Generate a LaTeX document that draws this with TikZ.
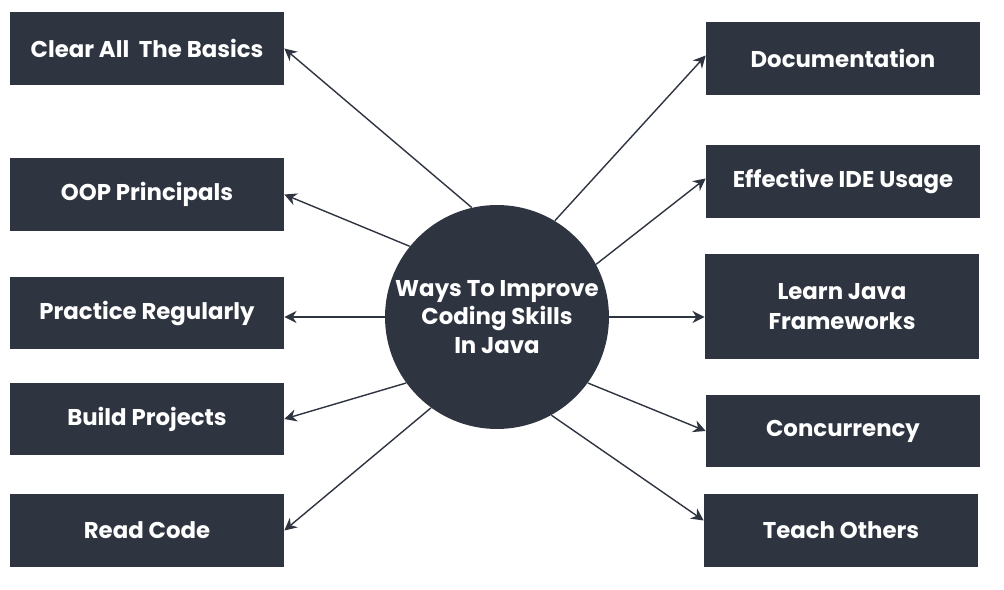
\documentclass[tikz,border=0pt]{standalone}
\usepackage{fontspec}
\setmainfont{Poppins}
\usetikzlibrary{arrows.meta,positioning}
\definecolor{boxdark}{HTML}{2E3440}
\begin{document}
\begin{tikzpicture}[x=0.02cm,y=-0.02cm,
    item/.style={rectangle, fill=boxdark, text=white, font=\bfseries\fontsize{13}{17}\selectfont, minimum width=5.48cm, minimum height=1.46cm, align=center, inner sep=0pt},
    hub/.style={circle, fill=boxdark, text=white, font=\bfseries\fontsize{13}{16}\selectfont, minimum size=4.48cm, align=center, inner sep=0pt},
    arrow/.style={-{Stealth[length=7pt,width=7pt]}, thick, boxdark}
]
\useasboundingbox (0,0) rectangle (1004,590);

% Centre
\node[hub] (hub) at (497,317) {Ways To Improve\\Coding Skills\\In Java};

% Left column
\node[item] (basics) at (147,48.5) {Clear All\ \ The Basics};
\node[item] (oop) at (147,194.5) {OOP Principals};
\node[item] (practice) at (147,313) {Practice Regularly};
\node[item] (projects) at (147,419) {Build Projects};
\node[item] (read) at (147,530.5) {Read Code};

% Right column
\node[item] (docs) at (843,58.5) {Documentation};
\node[item] (ide) at (843,181.5) {Effective IDE Usage};
\node[item, minimum height=2.1cm] (frameworks) at (842,306.5) {Learn Java\\Frameworks};
\node[item] (concurrency) at (843,431) {Concurrency};
\node[item] (teach) at (841,530.5) {Teach Others};

% Arrows
\draw[arrow] (hub.103) -- (basics.east);
\draw[arrow] (hub.141) -- (oop.east);
\draw[arrow] (hub.180) -- (practice.east |- hub);
\draw[arrow] (hub.216) -- (projects.east);
\draw[arrow] (hub.234) -- (read.east);
\draw[arrow] (hub.59) -- ([yshift=0.06cm]docs.west);
\draw[arrow] (hub.28) -- ([yshift=0.06cm]ide.west);
\draw[arrow] (hub.0) -- (frameworks.west |- hub);
\draw[arrow] (hub.-36) -- (concurrency.west);
\draw[arrow] (hub.-61) -- ([yshift=0.2cm]teach.west);
\end{tikzpicture}
\end{document}
